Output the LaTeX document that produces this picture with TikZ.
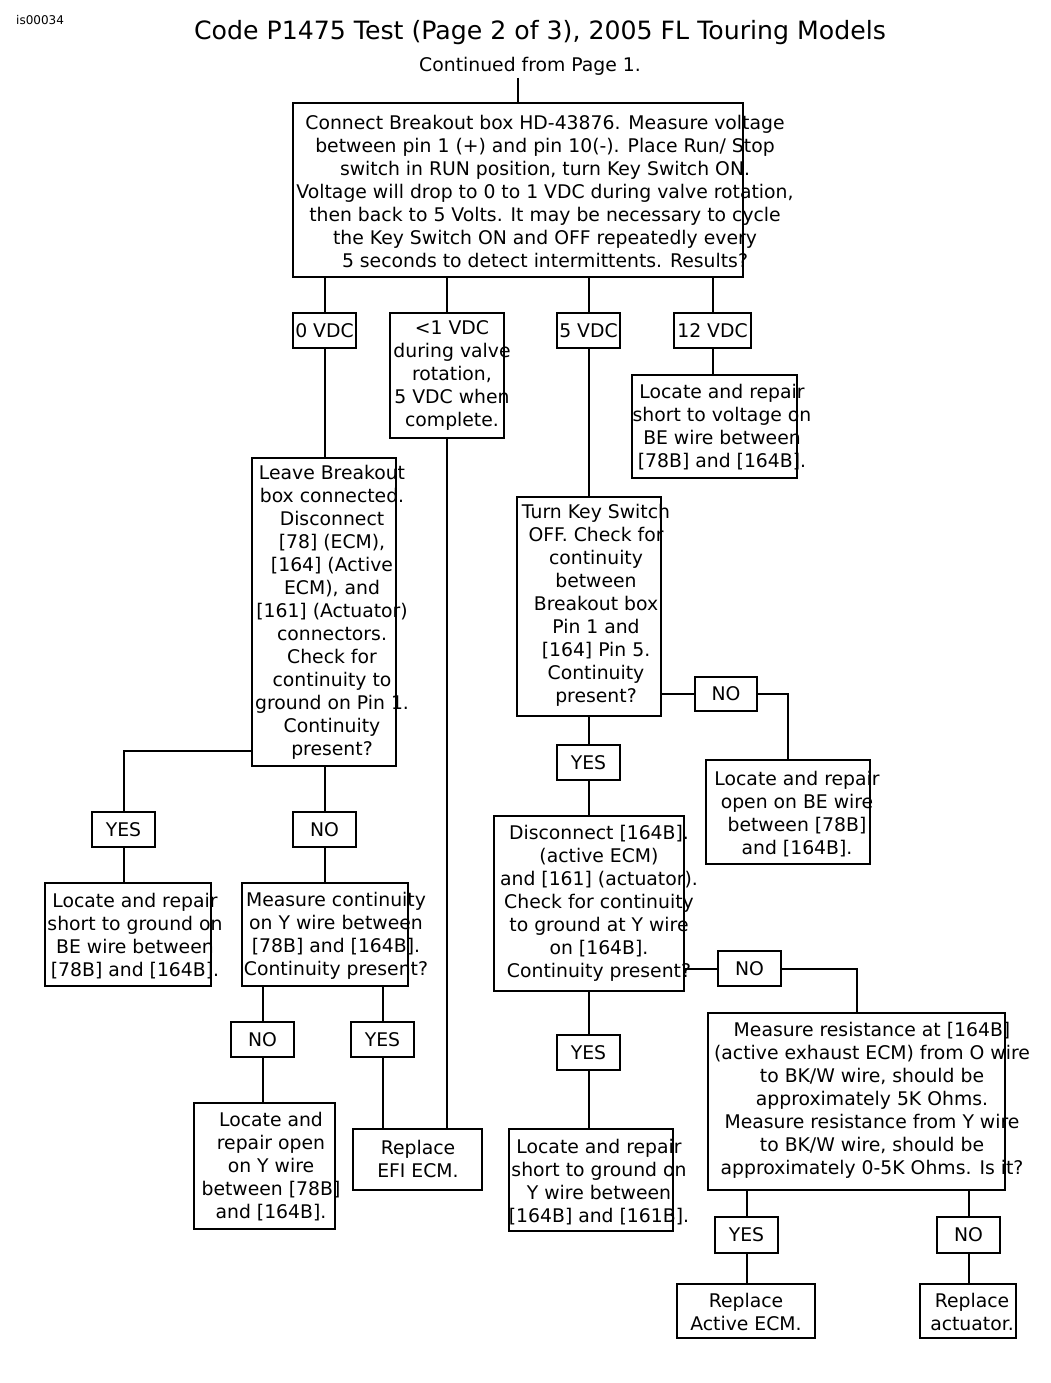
\documentclass[tikz,border=0pt]{standalone}
\usepackage{fontspec}
\setmainfont{DejaVu Sans}
\usetikzlibrary{calc}
\begin{document}
\begin{tikzpicture}[x=1pt,y=-1pt,
  bx/.style={draw,line width=1.5pt,inner sep=0pt,minimum width=#1},
  lbl/.style={draw,line width=1.5pt,inner sep=0pt,minimum width=#1,minimum height=35pt,font=\fontsize{18.8}{23}\selectfont},
  txt/.style={align=center,inner sep=0pt,yshift=-1.2pt,font=\fontsize{18.8}{23}\selectfont},
  conn/.style={line width=2pt}]
\useasboundingbox (0,0) rectangle (1050,1383);
\fill[white] (0,0) rectangle (1050,1383);
% headings
\node[anchor=west,inner sep=0pt,font=\fontsize{12}{14}\selectfont] (id) at (16,20) {is00034};
\node[inner sep=0pt,font=\fontsize{25.2}{28}\selectfont] (title) at (540,33) {Code P1475 Test (Page 2 of 3), 2005 FL Touring Models};
\node[txt] (cont) at (530,65.5) {Continued from Page 1.};
\coordinate (c0) at (518,78);
% boxes
\node[bx=450pt,minimum height=174pt] (top) at (518,190) {};
\node[lbl=63pt] (v0) at (324.5,330.5) {0 VDC};
\node[bx=114pt,minimum height=125pt] (v1) at (447,375.5) {};
\node[lbl=63pt] (v5) at (588.5,330.5) {5 VDC};
\node[lbl=77pt] (v12) at (712.5,330.5) {12 VDC};
\node[bx=165pt,minimum height=103pt] (loc12) at (714.5,426.5) {};
\node[bx=144pt,minimum height=308pt] (leave) at (324,612) {};
\node[lbl=63pt] (yes1) at (123.5,829.5) {YES};
\node[lbl=63pt] (no1) at (324.5,829.5) {NO};
\node[bx=166pt,minimum height=103pt] (locBE) at (128,934.5) {};
\node[bx=166pt,minimum height=103pt] (meas) at (325,934.5) {};
\node[lbl=63pt] (no2) at (262.5,1039.5) {NO};
\node[lbl=63pt] (yes2) at (382.5,1039.5) {YES};
\node[bx=141pt,minimum height=126pt] (openY) at (264.5,1166) {};
\node[bx=129pt,minimum height=61pt] (efi) at (417.5,1159.5) {};
\node[bx=144pt,minimum height=219pt] (turn) at (589,606.5) {};
\node[lbl=62pt,minimum height=34pt] (no3) at (726,694) {NO};
\node[bx=164pt,minimum height=104pt] (openBE) at (788,812) {};
\node[lbl=63pt] (yes3) at (588.5,762.5) {YES};
\node[bx=190pt,minimum height=175pt] (disc) at (589,903.5) {};
\node[lbl=63pt] (no4) at (749.5,968.5) {NO};
\node[bx=297pt,minimum height=177pt] (res) at (856.5,1101.5) {};
\node[lbl=63pt] (yes4) at (588.5,1052.5) {YES};
\node[bx=164pt,minimum height=102pt] (locY) at (591,1180) {};
\node[lbl=63pt,minimum height=36pt] (yes5) at (746.5,1235) {YES};
\node[lbl=63pt,minimum height=36pt] (no5) at (968.5,1235) {NO};
\node[bx=138pt,minimum height=54pt] (rep1) at (746,1311) {};
\node[bx=96pt,minimum height=54pt] (rep2) at (968,1311) {};
% texts
\node[txt] (top-t) at (545,190.5) {Connect Breakout box HD-43876. Measure voltage\\between pin 1 (+) and pin 10(-). Place Run/ Stop\\switch in RUN position, turn Key Switch ON.\\Voltage will drop to 0 to 1 VDC during valve rotation,\\then back to 5 Volts. It may be necessary to cycle\\the Key Switch ON and OFF repeatedly every\\5 seconds to detect intermittents. Results?};
\node[txt] (v1-t) at (452,374.5) {<1 VDC\\during valve\\rotation,\\5 VDC when\\complete.};
\node[txt] (loc12-t) at (722,425.5) {Locate and repair\\short to voltage on\\BE wire between\\{[78B]} and {[164B]}.};
\node[txt] (leave-t) at (332,611) {Leave Breakout\\box connected.\\Disconnect\\{[78]} (ECM),\\{[164]} (Active\\ECM), and\\{[161]} (Actuator)\\connectors.\\Check for\\continuity to\\ground on Pin 1.\\Continuity\\present?};
\node[txt] (locBE-t) at (135,934.5) {Locate and repair\\short to ground on\\BE wire between\\{[78B]} and {[164B]}.};
\node[txt] (meas-t) at (336,934.5) {Measure continuity\\on Y wire between\\{[78B]} and {[164B]}.\\Continuity present?};
\node[txt] (openY-t) at (271,1165) {Locate and\\repair open\\on Y wire\\between {[78B]}\\and {[164B]}.};
\node[txt] (efi-t) at (418,1157.5) {Replace\\EFI ECM.};
\node[txt] (turn-t) at (596,604.5) {Turn Key Switch\\OFF. Check for\\continuity\\between\\Breakout box\\Pin 1 and\\{[164]} Pin 5.\\Continuity\\present?};
\node[txt] (openBE-t) at (797,812.5) {Locate and repair\\open on BE wire\\between {[78B]}\\and {[164B]}.};
\node[txt] (disc-t) at (599,902) {Disconnect {[164B]}.\\(active ECM)\\and {[161]} (actuator).\\Check for continuity\\to ground at Y wire\\on {[164B]}.\\Continuity present?};
\node[txt] (locY-t) at (599,1180.5) {Locate and repair\\short to ground on\\Y wire between\\{[164B]} and {[161B]}.};
\node[txt] (res-t) at (872,1099) {Measure resistance at {[164B]}\\(active exhaust ECM) from O wire\\to BK/W wire, should be\\approximately 5K Ohms.\\Measure resistance from Y wire\\to BK/W wire, should be\\approximately 0-5K Ohms. Is it?};
\node[txt] (rep1-t) at (746,1310.5) {Replace\\Active ECM.};
\node[txt] (rep2-t) at (972,1310.5) {Replace\\actuator.};
% connectors
\coordinate (j1) at (252,751);
\draw[conn] (c0) -- (c0 |- top.north);
\draw[conn] (top.south -| v0) -- (v0.north);
\draw[conn] (top.south -| v1) -- (v1.north);
\draw[conn] (top.south -| v5) -- (v5.north);
\draw[conn] (top.south -| v12) -- (v12.north);
\draw[conn] (v12.south) -- (v12.south |- loc12.north);
\draw[conn] (v0.south) -- (v0.south |- leave.north);
\draw[conn] (v1.south) -- (v1.south |- efi.north);
\draw[conn] (j1) -| (yes1.north);
\draw[conn] (yes1.south) -- (yes1.south |- locBE.north);
\draw[conn] (leave.south -| no1) -- (no1.north);
\draw[conn] (no1.south) -- (no1.south |- meas.north);
\draw[conn] (meas.south -| no2) -- (no2.north);
\draw[conn] (no2.south) -- (no2.south |- openY.north);
\draw[conn] (meas.south -| yes2) -- (yes2.north);
\draw[conn] (yes2.south) -- (yes2.south |- efi.north);
\draw[conn] (v5.south) -- (v5.south |- turn.north);
\draw[conn] (turn.east |- no3.west) -- (no3.west);
\draw[conn] (no3.east) -| (openBE.north);
\draw[conn] (turn.south -| yes3) -- (yes3.north);
\draw[conn] (yes3.south) -- (yes3.south |- disc.north);
\draw[conn] (disc.east |- no4.west) -- (no4.west);
\draw[conn] (no4.east) -| (res.north);
\draw[conn] (disc.south -| yes4) -- (yes4.north);
\draw[conn] (yes4.south) -- (yes4.south |- locY.north);
\draw[conn] (res.south -| yes5) -- (yes5.north);
\draw[conn] (yes5.south) -- (yes5.south |- rep1.north);
\draw[conn] (res.south -| no5) -- (no5.north);
\draw[conn] (no5.south) -- (no5.south |- rep2.north);
\end{tikzpicture}
\end{document}
